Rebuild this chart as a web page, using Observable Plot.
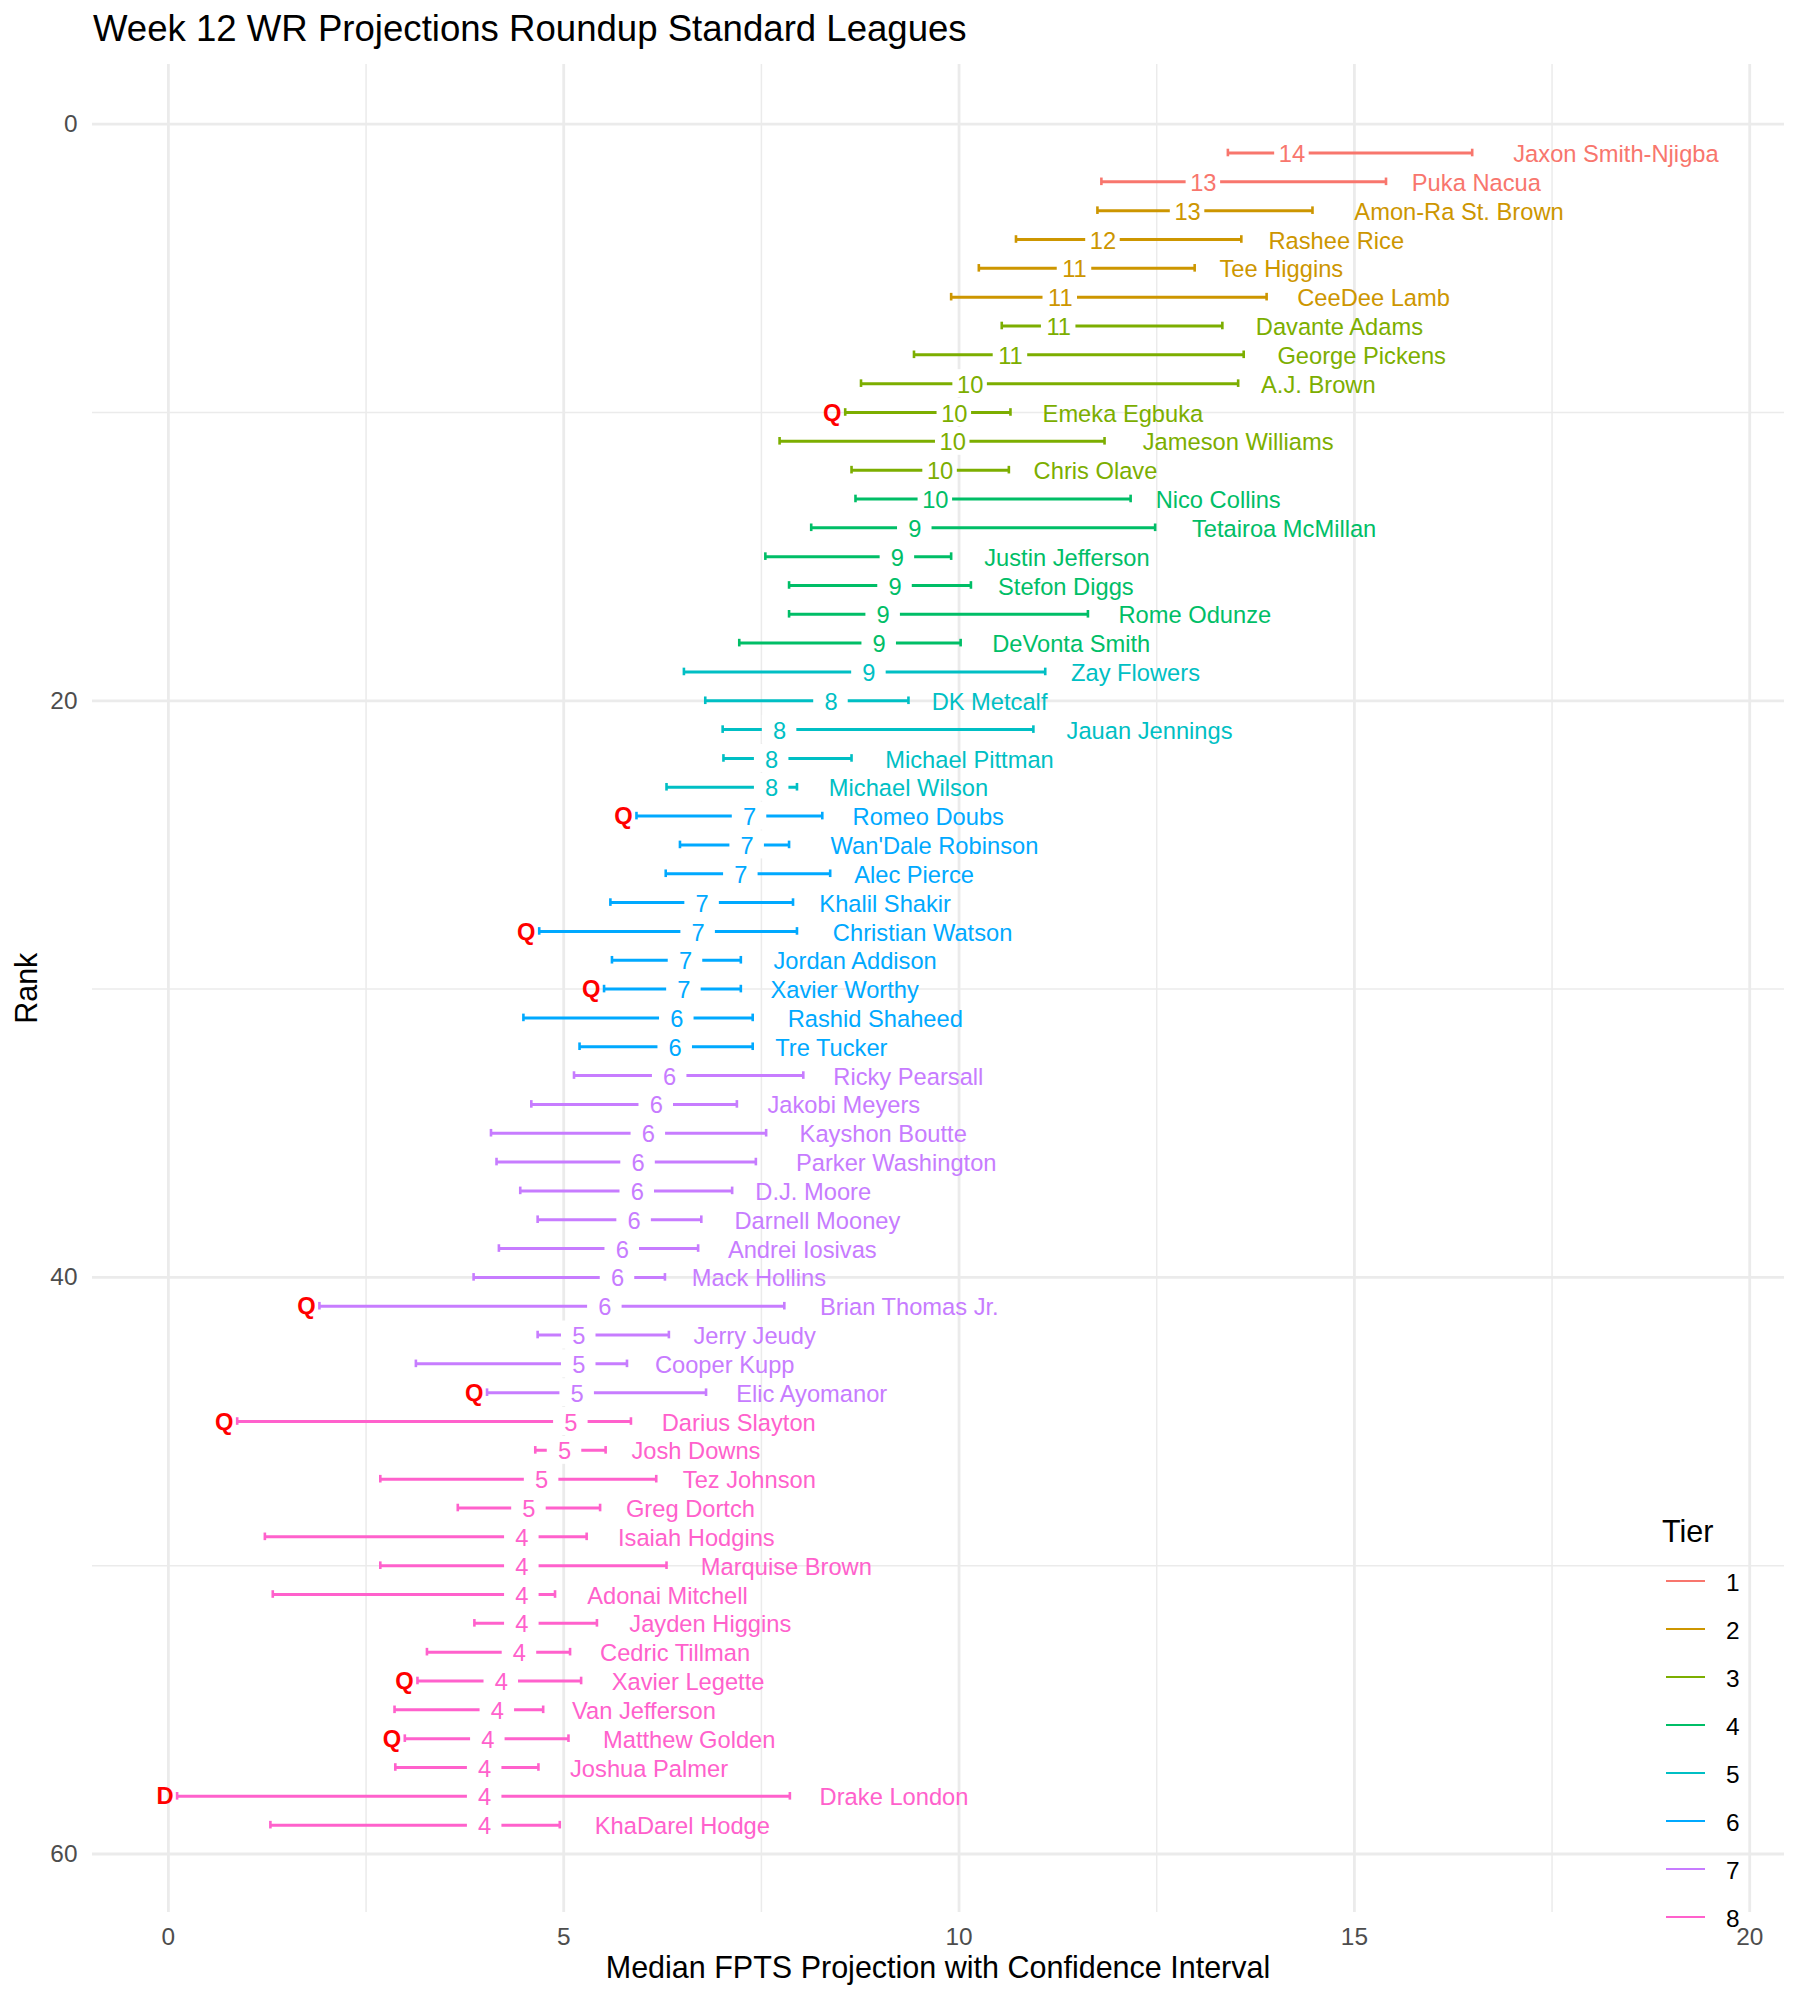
<!DOCTYPE html>
<html>
<head>
<meta charset="utf-8">
<script src="https://cdn.jsdelivr.net/npm/d3@7"></script>
<script src="https://cdn.jsdelivr.net/npm/@observablehq/plot@0.6"></script>
<style>
  body { margin: 0; background: #fff; }
  #wrap { position: relative; width: 1800px; height: 2000px; font-family: "Liberation Sans", Arial, Helvetica, sans-serif; }
  #chart { position: absolute; left: 0; top: 0; }
  .abs { position: absolute; white-space: nowrap; }
  #title { left: 93px; top: 11.3px; font-size: 36.6px; line-height: 36.6px; color: #000; }
  #xlab { left: 438px; width: 1000px; text-align: center; top: 1952px; font-size: 30.5px; line-height: 30.5px; color: #000; }
  #ylab { left: -73.6px; width: 200px; text-align: center; top: 972.75px; font-size: 30.5px; line-height: 30.5px; color: #000; transform: rotate(-90deg); }
  #legend-title { left: 1662px; top: 1516.2px; font-size: 30.5px; line-height: 30.5px; color: #000; }
  .key { position: absolute; left: 1666px; width: 39px; height: 2.7px; }
  .key-label { position: absolute; left: 1726px; font-size: 24.4px; line-height: 24.4px; color: #000; }
</style>
</head>
<body>
<div id="wrap">
  <div id="chart"></div>
  <div id="title" class="abs">Week 12 WR Projections Roundup Standard Leagues</div>
  <div id="xlab" class="abs">Median FPTS Projection with Confidence Interval</div>
  <div id="ylab" class="abs">Rank</div>
  <div id="legend-title" class="abs">Tier</div>
  <div id="legend"></div>
</div>
<script>
// Week 12 wide receiver projections: median fantasy points with a confidence range.
const names = [
  "Jaxon Smith-Njigba", "Puka Nacua", "Amon-Ra St. Brown", "Rashee Rice", "Tee Higgins",
  "CeeDee Lamb", "Davante Adams", "George Pickens", "A.J. Brown", "Emeka Egbuka",
  "Jameson Williams", "Chris Olave", "Nico Collins", "Tetairoa McMillan", "Justin Jefferson",
  "Stefon Diggs", "Rome Odunze", "DeVonta Smith", "Zay Flowers", "DK Metcalf",
  "Jauan Jennings", "Michael Pittman", "Michael Wilson", "Romeo Doubs", "Wan'Dale Robinson",
  "Alec Pierce", "Khalil Shakir", "Christian Watson", "Jordan Addison", "Xavier Worthy",
  "Rashid Shaheed", "Tre Tucker", "Ricky Pearsall", "Jakobi Meyers", "Kayshon Boutte",
  "Parker Washington", "D.J. Moore", "Darnell Mooney", "Andrei Iosivas", "Mack Hollins",
  "Brian Thomas Jr.", "Jerry Jeudy", "Cooper Kupp", "Elic Ayomanor", "Darius Slayton",
  "Josh Downs", "Tez Johnson", "Greg Dortch", "Isaiah Hodgins", "Marquise Brown",
  "Adonai Mitchell", "Jayden Higgins", "Cedric Tillman", "Xavier Legette", "Van Jefferson",
  "Matthew Golden", "Joshua Palmer", "Drake London", "KhaDarel Hodge"
];
const ranks = [
  1, 2, 3, 4, 5, 6, 7, 8, 9, 10, 11, 12, 13, 14, 15, 16, 17, 18, 19, 20,
  21, 22, 23, 24, 25, 26, 27, 28, 29, 30, 31, 32, 33, 34, 35, 36, 37, 38, 39, 40,
  41, 42, 43, 44, 45, 46, 47, 48, 49, 50, 51, 52, 53, 54, 55, 56, 57, 58, 59
];
const tiers = [
  1, 1, 2, 2, 2, 2, 3, 3, 3, 3, 3, 3, 4, 4, 4, 4, 4, 4, 5, 5,
  5, 5, 5, 6, 6, 6, 6, 6, 6, 6, 6, 6, 7, 7, 7, 7, 7, 7, 7, 7,
  7, 7, 7, 7, 8, 8, 8, 8, 8, 8, 8, 8, 8, 8, 8, 8, 8, 8, 8
];
const lowers = [
  13.40, 11.80, 11.75, 10.72, 10.25, 9.90, 10.54, 9.43, 8.76, 8.56,
  7.73, 8.64, 8.69, 8.13, 7.55, 7.85, 7.85, 7.22, 6.52, 6.79,
  7.01, 7.02, 6.30, 5.92, 6.47, 6.29, 5.59, 4.69, 5.61, 5.51,
  4.49, 5.20, 5.13, 4.59, 4.08, 4.15, 4.45, 4.67, 4.18, 3.86,
  1.91, 4.67, 3.13, 4.03, 0.87, 4.64, 2.68, 3.66, 1.22, 2.68,
  1.32, 3.87, 3.27, 3.15, 2.86, 2.99, 2.87, 0.11, 1.29
];
const medians = [
  14.21, 13.09, 12.89, 11.82, 11.46, 11.28, 11.26, 10.65, 10.14, 9.94,
  9.92, 9.76, 9.70, 9.44, 9.22, 9.19, 9.04, 8.99, 8.86, 8.38,
  7.73, 7.63, 7.63, 7.35, 7.32, 7.24, 6.75, 6.70, 6.54, 6.52,
  6.43, 6.41, 6.34, 6.17, 6.07, 5.94, 5.93, 5.89, 5.74, 5.68,
  5.52, 5.19, 5.19, 5.17, 5.09, 5.01, 4.72, 4.56, 4.47, 4.47,
  4.47, 4.47, 4.44, 4.21, 4.16, 4.04, 4.00, 4.00, 4.00
];
const uppers = [
  16.49, 15.40, 14.47, 13.57, 12.98, 13.89, 13.33, 13.60, 13.53, 10.65,
  11.84, 10.63, 12.17, 12.48, 9.90, 10.15, 11.63, 10.02, 11.09, 9.36,
  10.94, 8.64, 7.95, 8.27, 7.85, 8.37, 7.90, 7.95, 7.24, 7.24,
  7.39, 7.39, 8.03, 7.19, 7.56, 7.43, 7.13, 6.74, 6.70, 6.28,
  7.79, 6.33, 5.80, 6.80, 5.85, 5.53, 6.17, 5.46, 5.29, 6.30,
  4.89, 5.42, 5.08, 5.22, 4.74, 5.06, 4.68, 7.86, 4.95
];
// Injury designation: Q = questionable, D = doubtful
const statuses = [
  "", "", "", "", "", "", "", "", "", "Q",
  "", "", "", "", "", "", "", "", "", "",
  "", "", "", "Q", "", "", "", "Q", "", "Q",
  "", "", "", "", "", "", "", "", "", "",
  "Q", "", "", "Q", "Q", "", "", "", "", "",
  "", "", "", "Q", "", "Q", "", "D", ""
];

const tierLevels = [1, 2, 3, 4, 5, 6, 7, 8];
const tierColors = ["#F8766D", "#CD9600", "#7CAE00", "#00BE67", "#00BFC4", "#00A9FF", "#C77CFF", "#FF61CC"];

const xTicks = [0, 5, 10, 15, 20];
const xMinor = [2.5, 7.5, 12.5, 17.5];
const yTicks = [0, 20, 40, 60];
const yMinor = [10, 30, 50];

const FONT = '"Liberation Sans", Arial, Helvetica, sans-serif';
const GRID = "#EBEBEB";

const rows = names.map((name, i) => ({
  name,
  rank: ranks[i],
  tier: tiers[i],
  lower: lowers[i],
  median: medians[i],
  upper: uppers[i],
  status: statuses[i]
}));

const chart = Plot.plot({
  width: 1800,
  height: 2000,
  marginLeft: 92,
  marginRight: 16,
  marginTop: 64,
  marginBottom: 88,
  style: { fontFamily: FONT, fontSize: "24.4px", color: "#4D4D4D", background: "transparent", overflow: "visible" },
  x: { domain: [-0.96, 20.44], ticks: xTicks, tickSize: 0, tickPadding: 15.5, label: null },
  y: { domain: [-2.07, 62.03], reverse: true, ticks: yTicks, tickSize: 0, tickPadding: 15, label: null },
  color: { type: "ordinal", domain: tierLevels, range: tierColors },
  marks: [
    // panel grid
    Plot.ruleX(xMinor, { stroke: GRID, strokeWidth: 1.5 }),
    Plot.ruleY(yMinor, { stroke: GRID, strokeWidth: 1.5 }),
    Plot.ruleX(xTicks, { stroke: GRID, strokeWidth: 2.8 }),
    Plot.ruleY(yTicks, { stroke: GRID, strokeWidth: 2.8 }),
    // error bars: range line plus end caps
    Plot.ruleY(rows, { y: "rank", x1: "lower", x2: "upper", stroke: "tier", strokeWidth: 3 }),
    Plot.ruleX(rows, { x: "lower", y1: "rank", y2: "rank", insetTop: -3.8, insetBottom: -3.8, stroke: "tier", strokeWidth: 2.6 }),
    Plot.ruleX(rows, { x: "upper", y1: "rank", y2: "rank", insetTop: -3.8, insetBottom: -3.8, stroke: "tier", strokeWidth: 2.6 }),
    // white label box behind the rounded median
    Plot.rect(rows, { x1: "median", x2: "median", y1: "rank", y2: "rank", fill: "white",
      insetLeft: -17.25, insetRight: -17.25, insetTop: -14, insetBottom: -14 }),
    Plot.text(rows, { x: "median", y: "rank", text: d => String(Math.round(d.median)), fill: "tier",
      fontSize: 23.7, fontFamily: FONT, textAnchor: "middle", dy: 1.5 }),
    // player names to the right of the range
    Plot.text(rows, { x: "upper", y: "rank", text: "name", fill: "tier",
      fontSize: 23.7, fontFamily: FONT, textAnchor: "start", dy: 1.5 }),
    // injury designation to the left of the range
    Plot.text(rows.filter(d => d.status), { x: "lower", y: "rank", text: "status", fill: "#FF0000",
      fontSize: 23.7, fontWeight: "bold", fontFamily: FONT, textAnchor: "end", dy: 0.5 })
  ]
});

document.getElementById("chart").appendChild(chart);

// Offset text by a fraction of its own width (left-justified names sit 0.2 widths right
// of the range end; status letters sit 0.2 widths left of the range start).
const textGroups = Array.from(chart.querySelectorAll('g[aria-label="text"]'));
const nameGroup = textGroups.find(g => g.textContent.includes(names[0]));
const statusGroup = textGroups.find(g => {
  const t = Array.from(g.querySelectorAll("text")).map(e => e.textContent);
  return t.length > 0 && t.every(s => s === "Q" || s === "D");
});
function shiftByWidth(group, frac) {
  if (!group) return;
  group.querySelectorAll("text").forEach(t => {
    const w = t.getComputedTextLength();
    const tr = t.getAttribute("transform") || "";
    t.setAttribute("transform", tr + ` translate(${(frac * w).toFixed(2)},0)`);
  });
}
shiftByWidth(nameGroup, 0.2);
shiftByWidth(statusGroup, -0.2);

// Tier legend
const legend = document.getElementById("legend");
tierLevels.forEach((tier, k) => {
  const cy = 1581 + 48 * k;
  const key = document.createElement("div");
  key.className = "key";
  key.style.top = (cy - 1.35) + "px";
  key.style.background = tierColors[k];
  legend.appendChild(key);
  const lab = document.createElement("div");
  lab.className = "key-label";
  lab.style.top = (cy + 11 - 20.65) + "px";
  lab.textContent = String(tier);
  legend.appendChild(lab);
});
</script>
</body>
</html>
